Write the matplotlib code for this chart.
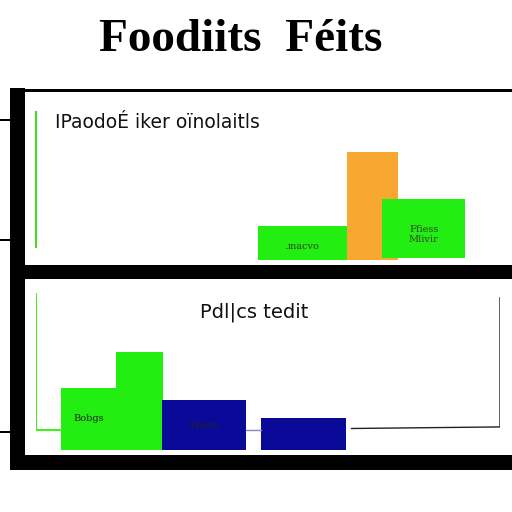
import matplotlib
matplotlib.use('Agg')
import matplotlib.pyplot as plt
from matplotlib.patches import Rectangle

# textos (ilegibles en el original, copiados lo mejor posible)
titulo = "Foodiits  Féits"
titulo_1 = "IPaodoÉ iker oïnolaitls"
titulo_2 = "Pdl|cs tedit"

# panel superior: posiciones x (izq), anchos y alturas de barras
p1_izq = [4.78, 6.70, 7.46]
p1_ancho = [1.92, 1.10, 1.79]
p1_alto = [2.3, 7.3, 4.0]
p1_base = [0.0, 0.0, 0.12]
p1_color = ["#22ee11", "#f8a830", "#22ee11"]
p1_etiq = ["ɹnacvo", "", "Ffiess\nMlivir"]

# panel inferior
p2_izq = [0.54, 1.72, 2.72, 4.85]
p2_ancho = [1.20, 1.02, 1.81, 1.83]
p2_alto = [3.95, 6.24, 3.18, 2.04]
p2_color = ["#22ee11", "#22ee11", "#0a0a99", "#0a0a99"]
p2_etiq = ["Bobgs", "", "Lhuro", ""]
p2_linea = 1.27

W = H = 512.0
fig = plt.figure(figsize=(5.12, 5.12), dpi=100)
fig.patch.set_facecolor("white")

def caja(x0, y0, x1, y1, color="black"):
    fig.add_artist(Rectangle((x0 / W, 1 - y1 / H), (x1 - x0) / W, (y1 - y0) / H,
                             transform=fig.transFigure, color=color, lw=0))

def ejes(x0, y0, x1, y1):
    return fig.add_axes([x0 / W, 1 - y1 / H, (x1 - x0) / W, (y1 - y0) / H])

# marco negro
caja(10, 88, 25, 470)
caja(10, 89, 512, 92)
caja(10, 265, 512, 279)
caja(10, 455, 512, 470)
for yy in [120, 240, 432]:
    caja(0, yy - 1, 11, yy + 1)

fig.text(241 / W, 1 - 40 / H, titulo, ha="center", va="center",
         fontsize=34, family="Liberation Serif", fontweight="bold")

# panel 1
ax1 = ejes(36, 112, 500, 260)
ax1.set_xlim(0, 10)
ax1.set_ylim(0, 10)
ax1.patch.set_alpha(0)
for s in ["top", "right", "bottom"]:
    ax1.spines[s].set_visible(False)
ax1.spines["left"].set_color("#44dd22")
ax1.spines["left"].set_linewidth(1.5)
ax1.spines["left"].set_bounds(0.88, 10)
ax1.set_xticks([])
ax1.set_yticks([])
ax1.bar(p1_izq, p1_alto, width=p1_ancho, bottom=p1_base, color=p1_color, align="edge")
for x, w, h, b, t in zip(p1_izq, p1_ancho, p1_alto, p1_base, p1_etiq):
    if t:
        ax1.text(x + w / 2, b + h * 0.4, t, ha="center", va="center",
                 fontsize=7, color="#334422", family="DejaVu Serif")
ax1.text(0.4, 9.3, titulo_1, ha="left", va="center", fontsize=13.5,
         family="DejaVu Sans", color="#111111")

# panel 2
ax2 = ejes(36, 293, 500, 450)
ax2.set_xlim(0, 10)
ax2.set_ylim(0, 10)
ax2.patch.set_alpha(0)
for s in ax2.spines.values():
    s.set_visible(False)
ax2.set_xticks([])
ax2.set_yticks([])
ax2.plot([0, 0, 0.54], [10, p2_linea, p2_linea], color="#44ee22", lw=1.5)
ax2.plot([4.53, 4.85], [p2_linea, p2_linea], color="#8888bb", lw=1)
ax2.plot([6.8, 10, 10], [p2_linea + 0.1, p2_linea + 0.2, 9.7], color="#222222", lw=1)
ax2.bar(p2_izq, p2_alto, width=p2_ancho, color=p2_color, align="edge")
for x, w, h, t in zip(p2_izq, p2_ancho, p2_alto, p2_etiq):
    if t:
        ax2.text(x + w / 2, h * 0.5, t, ha="center", va="center",
                 fontsize=7, color="#222222", family="DejaVu Serif")
ax2.text(4.7, 8.8, titulo_2, ha="center", va="center", fontsize=14,
         family="DejaVu Sans", color="#111111")

fig.savefig("out.png", dpi=100, facecolor="white")
